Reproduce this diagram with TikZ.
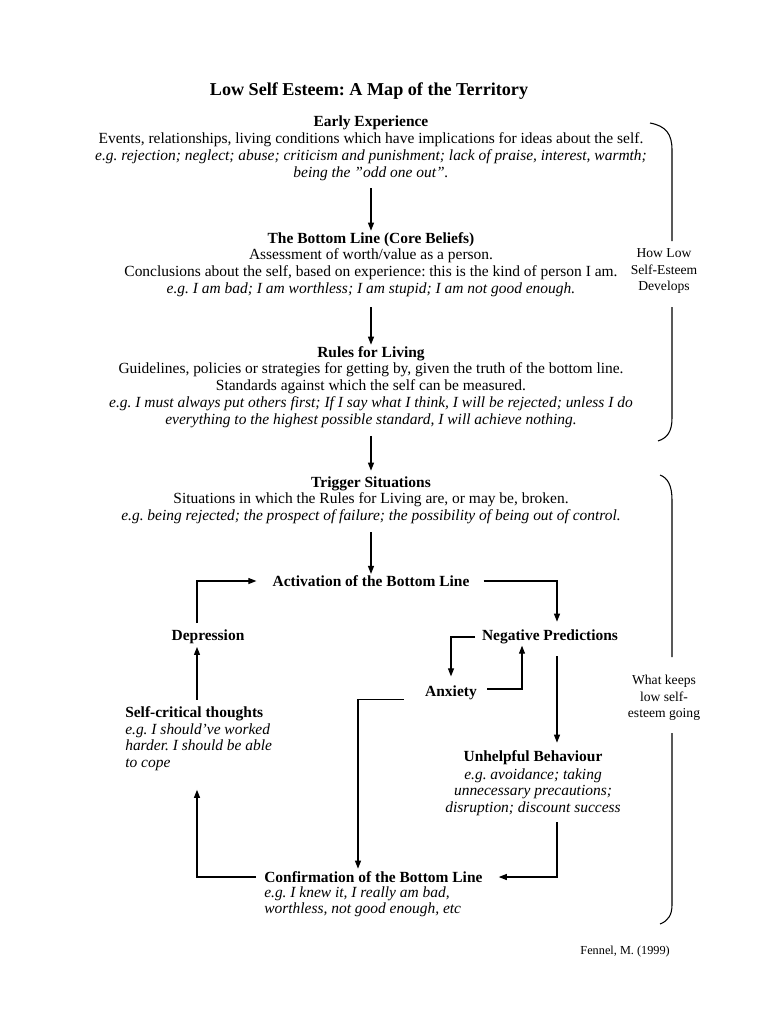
\documentclass[tikz,border=0pt]{standalone}
\usepackage{fontspec}
\setmainfont{Liberation Serif}
\usetikzlibrary{arrows.meta}
\frenchspacing

\begin{document}
\begin{tikzpicture}[x=0.75pt, y=-0.75pt,
    txt/.style={inner sep=0pt, font=\fontsize{11.6}{12.6}\selectfont},
    block/.style={txt, align=center},
    side/.style={inner sep=0pt, align=center, font=\fontsize{10.2}{12.4}\selectfont},
    arr/.style={-{Triangle[length=6pt, width=4.5pt]}, line width=0.8pt},
    brace/.style={line width=0.8pt}]
    \useasboundingbox (0, 0) rectangle (768, 1024);

    \node[inner sep=0pt, font=\fontsize{13.6}{16}\selectfont\bfseries] (title) at (369, 91) {Low Self Esteem: A Map of the Territory};

    \node[block, anchor=north] (early) at (371, 116) {\textbf{Early Experience}\\
        Events, relationships, living conditions which have implications for ideas about the self.\\
        \textit{e.g. rejection; neglect; abuse; criticism and punishment; lack of praise, interest, warmth;}\\
        \textit{being the "odd one out".}};
    \node[block, anchor=north] (bottom) at (371, 232) {\textbf{The Bottom Line (Core Beliefs)}\\
        Assessment of worth/value as a person.\\
        Conclusions about the self, based on experience: this is the kind of person I am.\\
        \textit{e.g. I am bad; I am worthless; I am stupid; I am not good enough.}};
    \node[block, anchor=north] (rules) at (371, 346) {\textbf{Rules for Living}\\
        Guidelines, policies or strategies for getting by, given the truth of the bottom line.\\
        Standards against which the self can be measured.\\
        \textit{e.g. I must always put others first; If I say what I think, I will be rejected; unless I do}\\
        \textit{everything to the highest possible standard, I will achieve nothing.}};
    \node[block, anchor=north] (trigger) at (371, 476) {\textbf{Trigger Situations}\\
        Situations in which the Rules for Living are, or may be, broken.\\
        \textit{e.g. being rejected; the prospect of failure; the possibility of being out of control.}};

    \draw[arr, shorten <=5.5pt, shorten >=1pt] (early.south) -- (bottom.north);
    \draw[arr, shorten <=7.5pt, shorten >=1pt] (bottom.south) -- (rules.north);
    \draw[arr, shorten <=6pt, shorten >=4pt] (rules.south) -- (trigger.north);

    \node[txt, font=\fontsize{11.6}{12.6}\selectfont\bfseries] (activation) at (371, 581) {Activation of the Bottom Line};
    \node[txt, font=\fontsize{11.6}{12.6}\selectfont\bfseries] (depression) at (208, 637) {Depression};
    \node[txt, font=\fontsize{11.6}{12.6}\selectfont\bfseries] (negpred) at (550, 637) {Negative Predictions};
    \node[txt, font=\fontsize{11.6}{12.6}\selectfont\bfseries] (anxiety) at (451, 693) {Anxiety};
    \node[txt, font=\fontsize{11.6}{12.6}\selectfont\bfseries, anchor=west] (selfcrit) at (125, 714) {Self-critical thoughts};
    \node[txt, align=left, anchor=north west] (selfcrit-eg) at (125, 723) {\textit{e.g. I should've worked}\\
        \textit{harder. I should be able}\\
        \textit{to cope}};
    \node[txt, font=\fontsize{11.6}{12.6}\selectfont\bfseries] (unhelpful) at (533, 758) {Unhelpful Behaviour};
    \node[block, anchor=north] (unhelpful-eg) at (533, 768) {\textit{e.g. avoidance; taking}\\
        \textit{unnecessary precautions;}\\
        \textit{disruption; discount success}};
    \node[txt, font=\fontsize{11.6}{12.6}\selectfont\bfseries, anchor=west] (confirm) at (264, 877) {Confirmation of the Bottom Line};
    \node[txt, align=left, anchor=north west] (confirm-eg) at (264, 886) {\textit{e.g. I knew it, I really am bad,}\\
        \textit{worthless, not good enough, etc}};

    \coordinate (lcol) at (197, 0);
    \coordinate (rcol) at (557, 0);
    \coordinate (mcol) at (358, 0);
    \coordinate (ret) at (522, 0);

    \draw[arr, shorten <=6pt, shorten >=1pt] (trigger.south) -- (activation.north);
    \draw[arr, shorten <=5pt, shorten >=12pt] (lcol |- depression.north) |- (activation.west);
    \draw[arr, shorten <=10.5pt, shorten >=6pt] (activation.east) -| (rcol |- negpred.north);
    \draw[arr, shorten <=5pt, shorten >=7pt] (negpred.west) -| (anxiety.north);
    \draw[arr, shorten <=7.5pt, shorten >=1pt] ([yshift=3pt]anxiety.east) -| (ret |- negpred.south);
    \draw[arr, shorten <=9pt, shorten >=6pt] (rcol |- negpred.south) -- (rcol |- unhelpful.north);
    \draw[arr, shorten <=16pt, shorten >=13pt] ([yshift=-5pt]anxiety.west) -| (mcol |- confirm-eg.north);
    \draw[arr, shorten <=4.5pt, shorten >=12pt] (rcol |- unhelpful-eg.south) |- (confirm.east);
    \draw[arr, shorten <=6pt, shorten >=14pt] (confirm.west) -| (lcol |- selfcrit-eg.south);
    \draw[arr, shorten <=5pt, shorten >=2pt] (lcol |- selfcrit.north) -- (lcol |- depression.south);

    \node[side] (howlow) at (664, 271) {How Low\\Self-Esteem\\Develops};
    \draw[brace] (650, 123) .. controls (666, 126) and (672, 134) .. (672, 150) -- (672, 241);
    \draw[brace] (672, 307) -- (672, 418) .. controls (672, 432) and (667, 438) .. (658, 441);

    \node[side] (keeps) at (664, 698) {What keeps\\low self-\\esteem going};
    \draw[brace] (660, 475) .. controls (668, 478) and (672, 486) .. (672, 500) -- (672, 657);
    \draw[brace] (672, 733) -- (672, 905) .. controls (672, 915) and (668, 921) .. (660, 924);

    \node[inner sep=0pt, anchor=east, font=\fontsize{9.2}{11}\selectfont] (source) at (670, 952) {Fennel, M. (1999)};
\end{tikzpicture}
\end{document}
